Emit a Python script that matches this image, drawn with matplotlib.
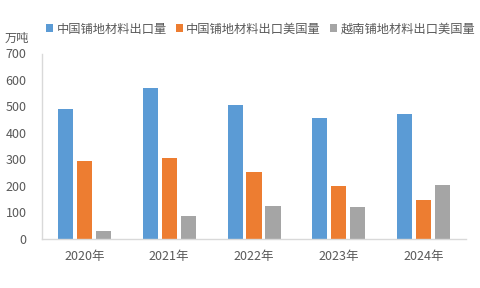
import numpy as np
import matplotlib
matplotlib.use("Agg")
import matplotlib.pyplot as plt

plt.rcParams['font.family'] = ['Noto Sans CJK SC', 'DejaVu Sans']

years = ['2020年', '2021年', '2022年', '2023年', '2024年']
series_names = ['中国铺地材料出口量', '中国铺地材料出口美国量', '越南铺地材料出口美国量']
cn_export = [490, 569, 505, 456, 471]
cn_to_us = [293, 304, 252, 199, 146]
vn_to_us = [28, 85, 123, 119, 202]
colors = ['#5B9BD5', '#ED7D31', '#A5A5A5']

fig = plt.figure(figsize=(4.8, 2.88), dpi=100)
ax = fig.add_axes([42/480, 1 - 238.5/288, 424/480, 185/288])

x = np.arange(len(years))
w = 0.177
step = 0.224
for i, (vals, name) in enumerate(zip([cn_export, cn_to_us, vn_to_us], series_names)):
    ax.bar(x + (i - 1) * step, vals, width=w, color=colors[i], label=name)

ax.set_xlim(-0.5, len(years) - 0.5)
ax.set_ylim(0, 700)
ax.set_yticks(range(0, 701, 100))
ax.set_xticks(x)
ax.set_xticklabels(years)
ax.tick_params(axis='both', length=0, labelsize=9, colors='#595959')
ax.tick_params(axis='y', pad=11)
ax.tick_params(axis='x', pad=8)

for s in ['top', 'right']:
    ax.spines[s].set_visible(False)
for s in ['left', 'bottom']:
    ax.spines[s].set_color('#D9D9D9')
    ax.spines[s].set_linewidth(1)

fig.text(5/480, 1 - 38/288, '万吨', fontsize=8.8, color='#595959', va='center', ha='left')

fig.legend(loc='center left', bbox_to_anchor=(46/480, 1 - 29/288),
           ncol=3, frameon=False, fontsize=8.8, handlelength=0.55, handleheight=0.55,
           handletextpad=0.3, columnspacing=0.75, borderaxespad=0, borderpad=0,
           labelcolor='#595959')

fig.savefig('out.png', dpi=100)
